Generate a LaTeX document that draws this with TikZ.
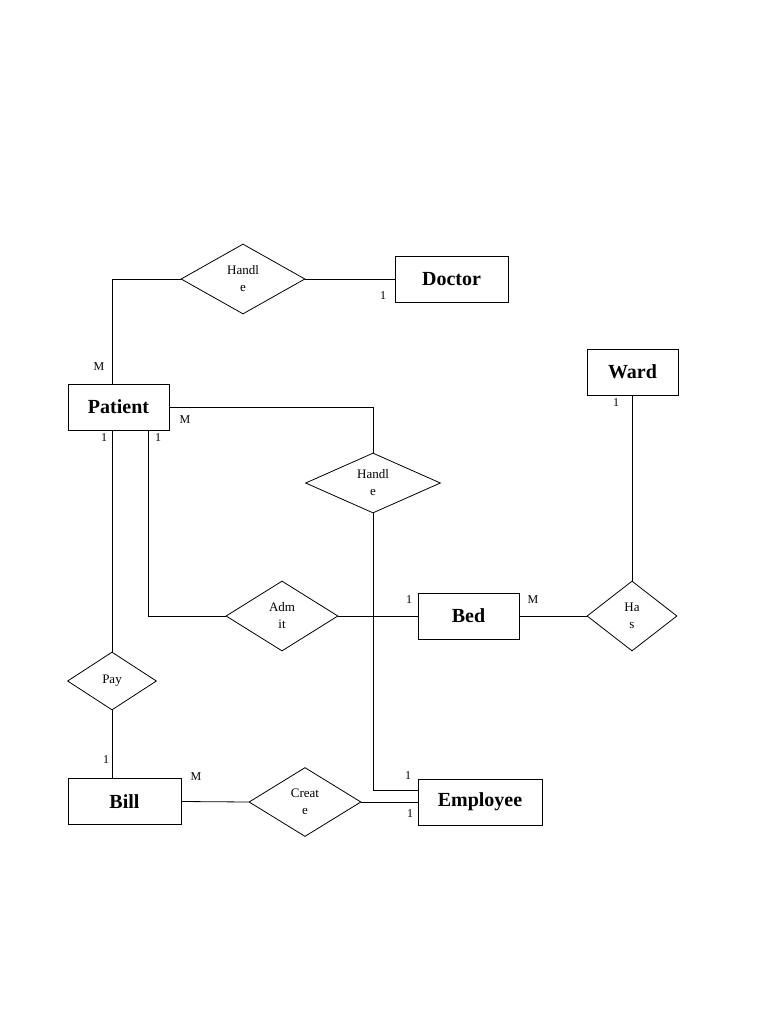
\documentclass[tikz,border=0pt]{standalone}
\usepackage{fontspec}
\setmainfont{Liberation Serif}
\usetikzlibrary{shapes.geometric}
\begin{document}
\begin{tikzpicture}[x=1pt,y=-1pt,
  ent/.style={draw,line width=0.8pt,minimum height=46pt,inner sep=0pt,font=\fontsize{20}{22}\selectfont\bfseries},
  rel/.style={draw,diamond,line width=0.8pt,inner sep=0pt,align=center,font=\fontsize{13}{17}\selectfont},
  lbl/.style={font=\fontsize{12}{14}\selectfont,inner sep=0pt},
  ln/.style={line width=0.8pt}]
\useasboundingbox (0,0) rectangle (768,1024);
\node[ent,minimum width=113pt] (doc) at (451.5,279) {Doctor};
\node[ent,minimum width=91pt] (ward) at (632.5,372) {Ward};
\node[ent,minimum width=101pt] (pat) at (118.5,407) {Patient};
\node[ent,minimum width=101pt] (bed) at (468.5,616) {Bed};
\node[ent,minimum width=113pt] (bill) at (124.5,801.5) {Bill};
\node[ent,minimum width=124pt] (emp) at (480,802) {Employee};
\node[rel,minimum width=124pt,minimum height=70pt] (h1) at (243,279) {Handl\\e};
\node[rel,minimum width=135pt,minimum height=60pt] (h2) at (373,483) {Handl\\e};
\node[rel,minimum width=112pt,minimum height=70pt] (adm) at (282,616) {Adm\\it};
\node[rel,minimum width=90pt,minimum height=70pt] (has) at (632,616) {Ha\\s};
\node[rel,minimum width=89pt,minimum height=58pt] (pay) at (112,681) {Pay};
\node[rel,minimum width=112pt,minimum height=69pt] (cre) at (305,802) {Creat\\e};
\draw[ln] (pat.north -| 112,0) |- (h1.west);
\draw[ln] (h1.east) -- (doc.west);
\draw[ln] (pat.east) -| (h2.north);
\draw[ln] (h2.south) |- (emp.west |- 0,790);
\draw[ln] (pat.south -| 148,0) |- (adm.west);
\draw[ln] (adm.east) -- (bed.west);
\draw[ln] (bed.east) -- (has.west);
\draw[ln] (has.north) -- (ward.south -| has.north);
\draw[ln] (pat.south -| 112,0) -- (pay.north);
\draw[ln] (pay.south) -- (bill.north -| pay.south);
\draw[ln] (bill.east) -- (cre.west);
\draw[ln] (cre.east) -- (emp.west |- cre.east);
\node[lbl] at (99,367) {M};
\node[lbl] at (383,296) {1};
\node[lbl] at (185,420) {M};
\node[lbl] at (408,776) {1};
\node[lbl] at (158,438) {1};
\node[lbl] at (104,438) {1};
\node[lbl] at (409,600) {1};
\node[lbl] at (533,600) {M};
\node[lbl] at (616,403) {1};
\node[lbl] at (106,760) {1};
\node[lbl] at (196,777) {M};
\node[lbl] at (410,814) {1};
\end{tikzpicture}
\end{document}
